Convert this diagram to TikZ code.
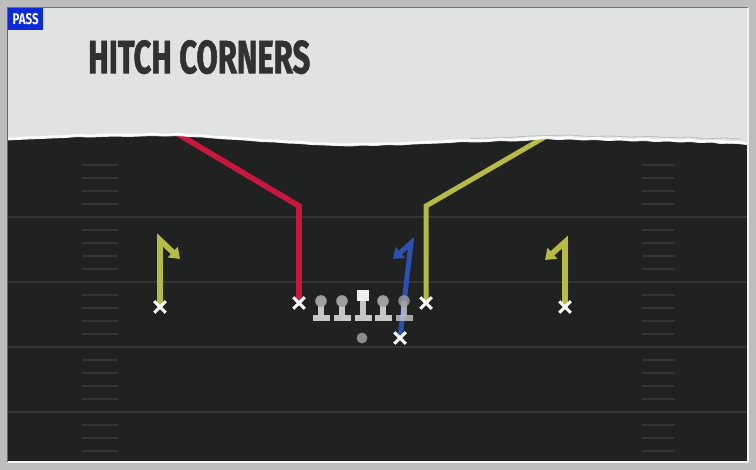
\documentclass[tikz,border=0pt]{standalone}
\usepackage{fontspec}
\setmainfont{Fira Sans}
\newfontfamily\titlefont{Fira Sans}[BoldFeatures={FakeBold=1.6}]
\usetikzlibrary{arrows.meta,shapes.misc}
\definecolor{framegrey}{HTML}{BDBDBD}
\definecolor{fieldbg}{HTML}{1F2221}
\definecolor{fieldline}{HTML}{323635}
\definecolor{paper}{HTML}{E1E3E3}
\definecolor{titleink}{HTML}{303131}
\definecolor{passblue}{HTML}{0B2BD6}
\definecolor{routered}{HTML}{C8173D}
\definecolor{routeyellow}{HTML}{B7BA44}
\definecolor{routeblue}{HTML}{2B50B2}
\definecolor{linegrey}{HTML}{C6C6C6}
\definecolor{ballgrey}{HTML}{8C8C8C}
\begin{document}
\begin{tikzpicture}[x=1pt,y=-1pt,
  yardline/.style={draw=fieldline,line width=1.3pt},
  hashmark/.style={draw=fieldline,line width=1.1pt},
  route/.style={line width=5.6pt,line join=miter},
  tipped/.style={-{Triangle[length=10pt,width=14pt]}},
  xmark/.style={cross out,draw=white,line width=3pt,minimum size=8.5pt,inner sep=0pt},
  lineman/.pic={
    \fill[linegrey] (-8.5,14.5) rectangle (8.5,20);
    \fill[linegrey] (-3,0) rectangle (3,15);
    \fill[linegrey!80!black] (0,0) circle (5.8);
  },
  centerman/.pic={
    \fill[linegrey] (-8.5,14.5) rectangle (8.5,20);
    \fill[linegrey] (-3,0) rectangle (3,15);
    \fill[white!94!black] (-5.8,-11) rectangle (5.8,0);
  }]
\useasboundingbox (0,0) rectangle (756,470);
% frame
\fill[framegrey] (0,0) rectangle (756,470);
\fill[white!95!black] (7,7) rectangle (749,463);
\fill[fieldbg] (8,8) rectangle (747,461);
\draw[black!60,line width=0.8pt] (7.6,462) -- (7.6,7.6) -- (748,7.6);
% yard lines
\foreach \yy in {217,282,347,412} \draw[yardline] (8,\yy) -- (747,\yy);
% hash marks
\foreach \yy in {165,178,191,204,230,243,256,269,295,308,321,334,360,373,386,399,425,438,451}{
  \draw[hashmark] (82,\yy) -- (118,\yy);
  \draw[hashmark] (642,\yy) -- (675,\yy);
}
% players positions
\coordinate (rcv1) at (160,307);
\coordinate (rcv2) at (299,303);
\coordinate (rcv3) at (426,303);
\coordinate (rcv4) at (565,307);
\coordinate (back) at (400,338);
\coordinate (qb) at (362,338);
% route break points
\coordinate (r2a) at (299,206);
\coordinate (r2b) at (178,134);
\coordinate (r3a) at (426,206);
\coordinate (r3b) at (550,134);
\coordinate (r1a) at (160,240);
\coordinate (r1b) at (180,259);
\coordinate (r4a) at (565,242);
\coordinate (r4b) at (545,260);
\coordinate (bka) at (411,243);
\coordinate (bkb) at (393,259);
% deep routes (go under paper)
\draw[route,routered] (rcv2) -- (r2a) -- (r2b);
\draw[route,routeyellow,line width=5pt] (rcv3) -- (r3a) -- (r3b);
% torn paper
\fill[paper] (8,8) -- (747,8) -- (747,145) -- (738,144) -- (730,143.5) -- (720,144) -- (712,142.5) -- (700,143) -- (690,142) -- (680,142.5) -- (668,141.5) -- (655,142) -- (645,141) -- (632,141.5) -- (620,140.5) -- (608,141) -- (595,140) -- (583,140.5) -- (570,139.5) -- (558,140) -- (545,139) -- (535,140) -- (525,141) -- (512,141.5) -- (500,141) -- (488,142) -- (475,142.5) -- (462,142) -- (450,143) -- (438,143.5) -- (425,144) -- (412,144.5) -- (400,145.5) -- (388,145) -- (375,146) -- (362,145.5) -- (350,146.5) -- (338,146) -- (325,145.5) -- (312,145) -- (300,144) -- (288,143.5) -- (275,142.5) -- (262,142) -- (250,141) -- (238,140) -- (226,139.5) -- (214,138.5) -- (202,137.5) -- (190,137) -- (178,136) -- (165,136.5) -- (152,136) -- (140,136.5) -- (128,137) -- (115,136.5) -- (102,137) -- (90,137.5) -- (78,137) -- (65,138) -- (52,138.5) -- (40,139) -- (28,139.5) -- (16,140) -- (8,140.5) -- cycle;
\draw[white,line width=2.4pt,line join=round,opacity=0.9] (747,143.5) -- (738,142) -- (730,142.5) -- (720,141.5) -- (712,141) -- (700,141.5) -- (690,140) -- (680,141) -- (668,139.5) -- (655,140.5) -- (645,139) -- (632,140) -- (620,138.5) -- (608,139.5) -- (595,138) -- (583,139) -- (570,137.5) -- (558,138.5) -- (545,137) -- (535,138.5) -- (525,139) -- (512,140) -- (500,139) -- (488,140.5) -- (475,140.5) -- (462,140.5) -- (450,141) -- (438,142) -- (425,142) -- (412,143) -- (400,143.5) -- (388,143.5) -- (375,144) -- (362,144) -- (350,144.5) -- (338,144.5) -- (325,143.5) -- (312,143.5) -- (300,142) -- (288,142) -- (275,140.5) -- (262,140.5) -- (250,139) -- (238,138.5) -- (226,137.5) -- (214,137) -- (202,135.5) -- (190,135.5) -- (178,134) -- (165,135) -- (152,134) -- (140,135) -- (128,135) -- (115,135) -- (102,135) -- (90,136) -- (78,135) -- (65,136.5) -- (52,136.5) -- (40,137.5) -- (28,137.5) -- (16,138.5) -- (8,138.5);
\draw[black!35,line width=0.8pt,opacity=0.6] (740,139) -- (725,138) -- (705,139) -- (690,137) -- (670,137.5) -- (650,136.5) -- (630,137) -- (610,136) -- (590,136.5) -- (570,135) -- (550,135.5) -- (530,136) -- (510,137.5) -- (490,138) -- (470,138.5);
% title and tag
\node[anchor=north west,inner sep=0pt,text=titleink] (title) at (88,40)
  {\resizebox{222pt}{33pt}{\titlefont\bfseries HITCH CORNERS}};
\node[anchor=north west,fill=passblue,minimum width=35pt,minimum height=22pt,inner sep=0pt] (tag) at (8,8) {};
\node[text=white,inner sep=0pt] (tagtext) at (tag.center) {\resizebox{26pt}{11pt}{\bfseries PASS}};
% short routes
\draw[route,routeyellow,tipped] (rcv1) -- (r1a) -- (r1b);
\draw[route,routeyellow,tipped] (rcv4) -- (r4a) -- (r4b);
\draw[route,routeblue,line width=5pt,tipped] (back) -- (bka) -- (bkb);
% offensive line
\pic (lt) at (321,301) {lineman};
\pic (lg) at (342,301) {lineman};
\pic (c) at (363,301) {centerman};
\pic (rg) at (383,301) {lineman};
\begin{scope}[opacity=0.8]
\pic (rt) at (404,301) {lineman};
\end{scope}
% quarterback
\fill[ballgrey] (qb) circle (5.4);
% receivers
\node[xmark] (x1) at (rcv1) {};
\node[xmark] (x2) at (rcv2) {};
\node[xmark] (x3) at (rcv3) {};
\node[xmark] (x4) at (rcv4) {};
\node[xmark] (x5) at (back) {};
\end{tikzpicture}
\end{document}
